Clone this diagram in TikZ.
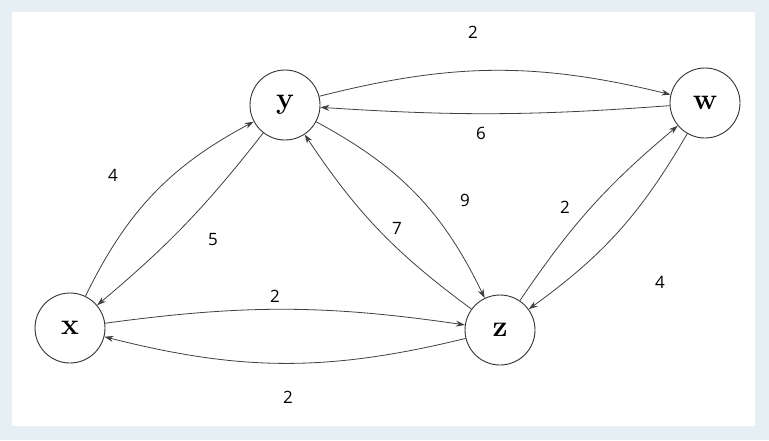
\documentclass[tikz,border=0pt]{standalone}
\usepackage{fontspec}
\newfontfamily\lab{Open Sans}
\usetikzlibrary{arrows.meta}
\definecolor{frame}{HTML}{E6EFF3}
\begin{document}
\begin{tikzpicture}[x=1pt,y=-1pt,
  vert/.style={circle,draw=black!80,line width=0.9pt,minimum size=70pt,inner sep=0pt,fill=white,font=\bfseries\fontsize{30}{30}\selectfont},
  edge/.style={draw=black!75,line width=0.8pt,-{Stealth[length=9pt,width=6pt]}},
  lbl/.style={font=\lab\fontsize{17}{20}\selectfont}]
\fill[frame] (0,0) rectangle (769,440);
\fill[white] (12,12) rectangle (755,426);
\useasboundingbox (0,0) rectangle (769,440);
\node[vert] (y) at (285,105) {y};
\node[vert] (w) at (705,103) {w};
\node[vert] (x) at (70,328) {x};
\node[vert] (z) at (500,330) {z};
\draw[edge] (y) to[bend left=14] (w);
\draw[edge] (w) to[bend left=4] (y);
\draw[edge] (x) to[bend left=18] (y);
\draw[edge] (y) to[bend left=6] (x);
\draw[edge] (y) to[bend left=18] (z);
\draw[edge] (z) to[bend left=10] (y);
\draw[edge] (z) to[bend left=8] (w);
\draw[edge] (w) to[bend left=12] (z);
\draw[edge] (x) to[bend left=8] (z);
\draw[edge] (z) to[bend left=14] (x);
\node[lbl] (l1) at (473,32) {2};
\node[lbl] (l2) at (481,133) {6};
\node[lbl] (l3) at (113,175) {4};
\node[lbl] (l4) at (213,240) {5};
\node[lbl] (l5) at (465,200) {9};
\node[lbl] (l6) at (397,228) {7};
\node[lbl] (l7) at (565,207) {2};
\node[lbl] (l8) at (660,282) {4};
\node[lbl] (l9) at (275,296) {2};
\node[lbl] (l10) at (288,397) {2};
\end{tikzpicture}
\end{document}
